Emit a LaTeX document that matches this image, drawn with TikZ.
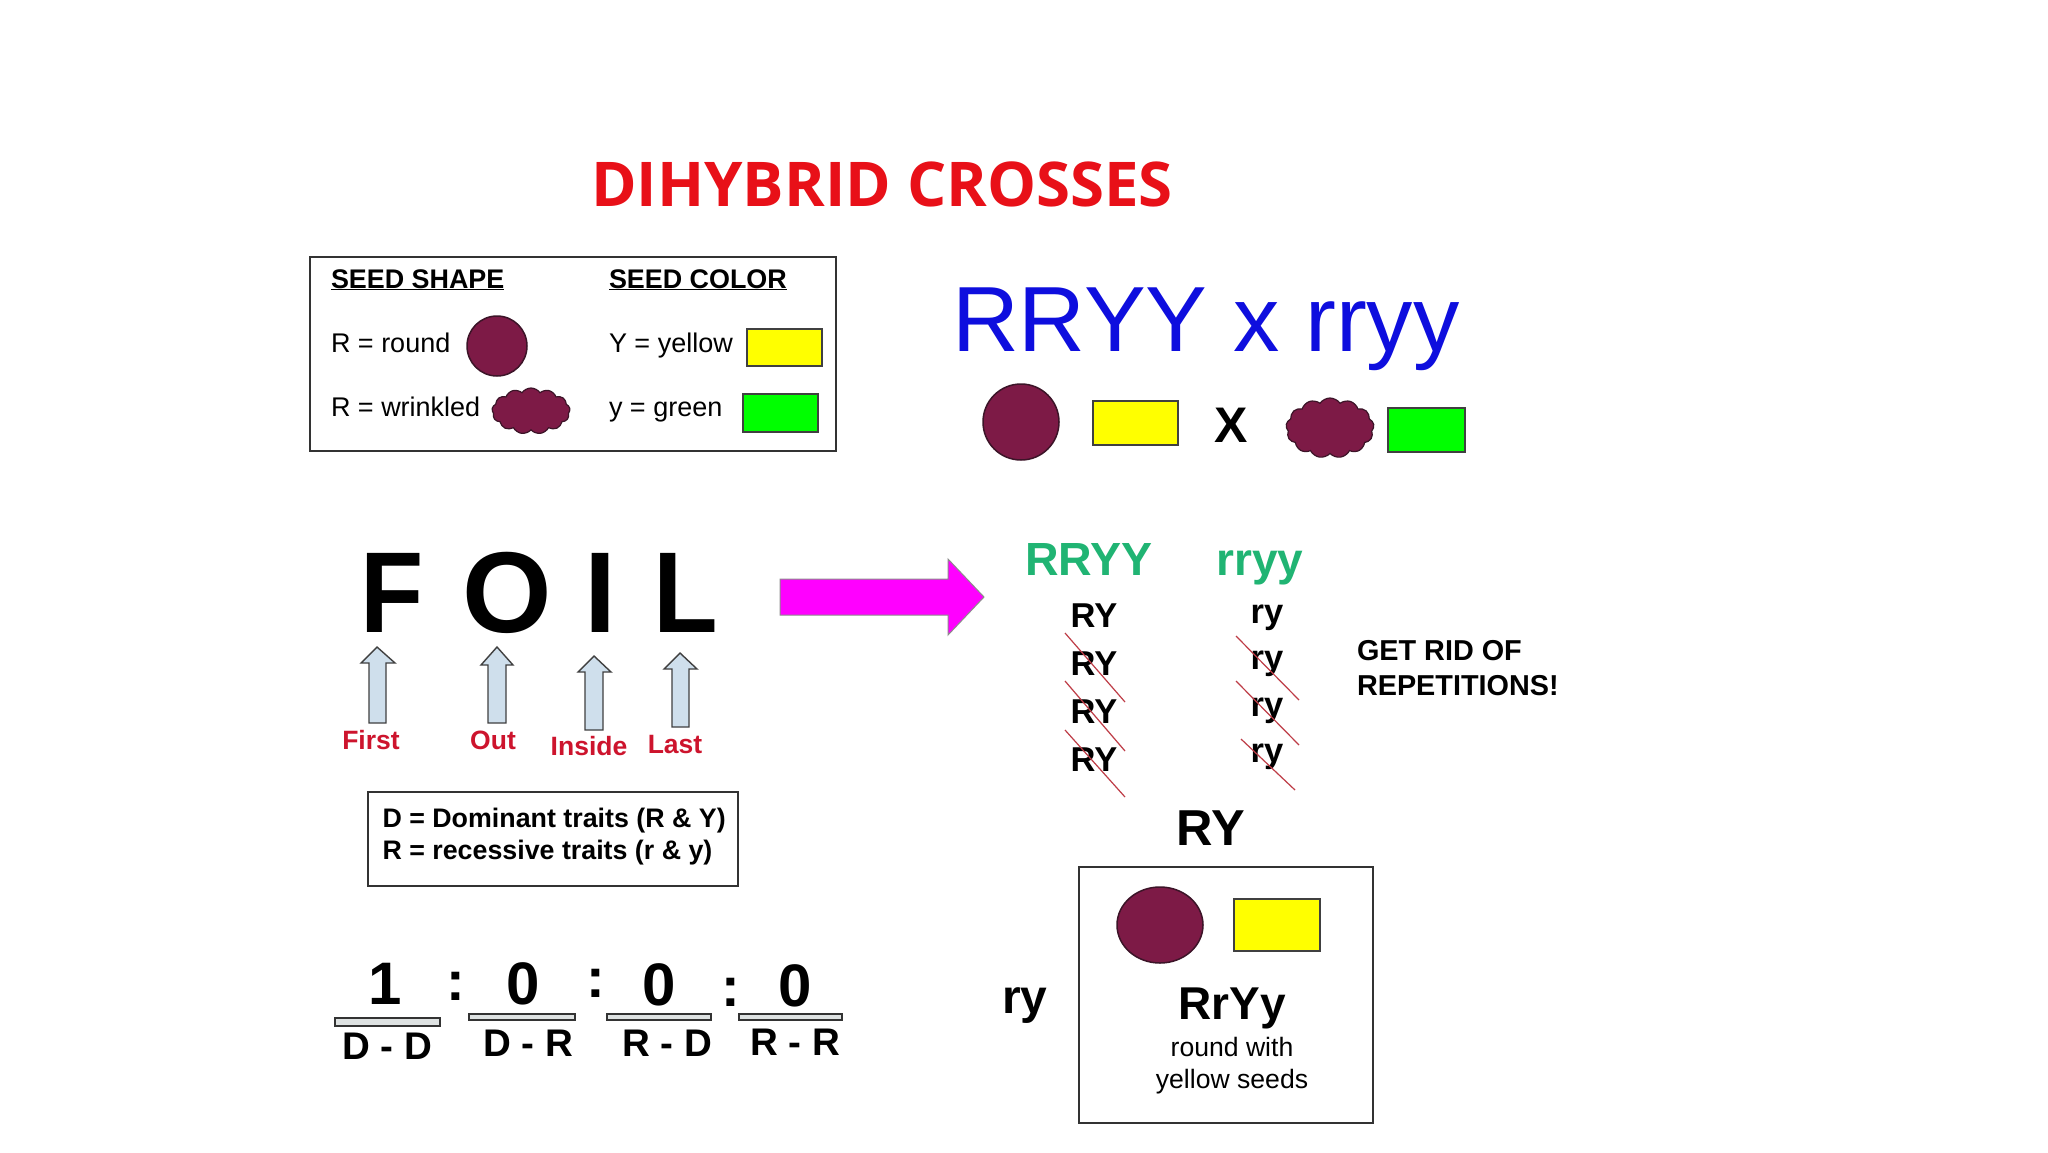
\documentclass[tikz,border=0pt]{standalone}
\usepackage{fontspec}
\setmainfont{Liberation Sans}
\newfontfamily\titlefont{Open Sans}
\usetikzlibrary{shapes.symbols,shapes.geometric}
\definecolor{seed}{RGB}{125,26,70}
\definecolor{seededge}{RGB}{60,20,40}
\definecolor{seedyellow}{RGB}{255,255,0}
\definecolor{seedgreen}{RGB}{0,255,0}
\definecolor{headgreen}{RGB}{32,180,115}
\definecolor{crossblue}{RGB}{14,14,222}
\definecolor{titlered}{RGB}{232,16,24}
\definecolor{arrowmagenta}{RGB}{255,0,255}
\definecolor{labelred}{RGB}{205,20,45}
\definecolor{strike}{RGB}{190,60,70}
\definecolor{blockfill}{RGB}{207,223,236}
\definecolor{barfill}{RGB}{222,226,226}
\tikzset{
  fs/.style={font=\fontsize{#1}{#1}\selectfont},
  fb/.style={font=\fontsize{#1}{#1}\selectfont\bfseries},
  txt/.style={inner sep=0pt,outer sep=0pt,anchor=base},
  txtw/.style={inner sep=0pt,outer sep=0pt,anchor=base west},
  framebox/.style={draw=black!80,line width=1.5pt,fill=none},
  swatch/.style={draw=black!75,line width=1.5pt,inner sep=0pt,anchor=north west},
  seedround/.style={ellipse,draw=seededge,line width=1.5pt,fill=seed,inner sep=0pt},
  seedwrinkled/.style={cloud,cloud puffs=13,cloud puff arc=110,draw=seededge,line width=1.2pt,fill=seed,inner sep=0pt,aspect=1.7},
  blockup/.style={draw=black!75,line width=1.4pt,fill=blockfill,line join=miter},
  bar/.style={draw=black!80,line width=1.4pt,fill=barfill},
  strikeout/.style={draw=strike,line width=1.2pt},
}
\begin{document}
\begin{tikzpicture}[x=1pt,y=-1pt]
\useasboundingbox[fill=white] (0,0) rectangle (2048,1152);

% title
\node[txt,text=titlered,font=\fontsize{61.7}{62}\selectfont\titlefont\bfseries] (title) at (882,206) {DIHYBRID CROSSES};

% legend
\draw[framebox] (310,257) rectangle (836,451);
\node[txtw,fb=26.9] (shapehead) at (331,288) {\underline{SEED SHAPE}};
\node[txtw,fb=26.9] (colorhead) at (609,288) {\underline{SEED COLOR}};
\node[txtw,fs=27] (roundlab) at (331,352) {R = round};
\node[txtw,fs=27] (wrinklab) at (331,416) {R = wrinkled};
\node[txtw,fs=27] (yellowlab) at (609,352) {Y = yellow};
\node[txtw,fs=27] (greenlab) at (609,416) {y = green};
\node[seedround,minimum width=60pt,minimum height=60pt] (legendround) at (497,346) {};
\node[seedwrinkled,minimum width=78pt,minimum height=46pt] (legendwrinkled) at (531,411) {};
\node[swatch,fill=seedyellow,minimum width=75pt,minimum height=37pt] (legendyellow) at (746,328) {};
\node[swatch,fill=seedgreen,minimum width=75pt,minimum height=38pt] (legendgreen) at (742,393) {};

% cross
\node[txtw,fs=92.6,text=crossblue] (cross) at (952,351) {RRYY x rryy};
\node[seedround,minimum width=76pt,minimum height=76pt] (crossround) at (1021,422) {};
\node[swatch,fill=seedyellow,minimum width=85pt,minimum height=44pt] (crossyellow) at (1092,400) {};
\node[txt,fb=50] (crossx) at (1231,442) {X};
\node[seedwrinkled,minimum width=88pt,minimum height=60pt] (crosswrinkled) at (1330,428) {};
\node[swatch,fill=seedgreen,minimum width=77pt,minimum height=44pt] (crossgreen) at (1387,407) {};

% FOIL
\node[txt,fb=115,xscale=0.9,transform shape] (foilF) at (392,632) {F};
\node[txt,fb=115] (foilO) at (507,632) {O};
\node[txt,fb=115] (foilI) at (600,632) {I};
\node[txt,fb=115,xscale=0.92,transform shape] (foilL) at (686,632) {L};

% magenta arrow
\draw[draw=black!45,line width=1pt,fill=arrowmagenta] (780,579) -- (948,579) -- (948,559) -- (984,597) -- (948,635) -- (948,615) -- (780,615) -- cycle;

% block arrows
\draw[blockup] (377,647) -- (395,663) -- (386,663) -- (386,723) -- (369,723) -- (369,663) -- (361,663) -- cycle;
\draw[blockup] (497,647) -- (513,665) -- (506,665) -- (506,723) -- (488,723) -- (488,665) -- (481,665) -- cycle;
\draw[blockup] (594,656) -- (611,672) -- (603,672) -- (603,730) -- (585,730) -- (585,672) -- (578,672) -- cycle;
\draw[blockup] (680,653) -- (697,669) -- (689,669) -- (689,727) -- (672,727) -- (672,669) -- (664,669) -- cycle;

\node[txt,fb=26.5,text=labelred] (lfirst) at (371,749) {First};
\node[txt,fb=26.5,text=labelred] (lout) at (493,749) {Out};
\node[txt,fb=26.5,text=labelred] (linside) at (589,755) {Inside};
\node[txt,fb=26.5,text=labelred] (llast) at (675,753) {Last};

% D/R box
\draw[framebox] (368,792) rectangle (738,886);
\node[txtw,fb=26.8] (dline) at (382.5,827) {D = Dominant traits (R \& Y)};
\node[txtw,fb=26.8] (rline) at (382.5,859) {R = recessive traits (r \& y)};

% ratio
\node[txt,fb=60] (r1) at (385,1004) {1};
\node[txt,fb=60] (r2) at (523,1004) {0};
\node[txt,fb=60] (r3) at (659,1005) {0};
\node[txt,fb=60] (r4) at (795,1006) {0};
\node[txt,fb=56] (c1) at (456,1000) {:};
\node[txt,fb=56] (c2) at (596,997) {:};
\node[txt,fb=56] (c3) at (731,1006) {:};
\draw[bar] (335,1018) rectangle (440,1026);
\draw[bar] (469,1014) rectangle (575,1020);
\draw[bar] (607,1014) rectangle (711,1020);
\draw[bar] (739,1014) rectangle (842,1020);
\node[txt,fb=38.5] (l1) at (387,1059) {D - D};
\node[txt,fb=38.5] (l2) at (528,1056) {D - R};
\node[txt,fb=38.5] (l3) at (667,1056) {R - D};
\node[txt,fb=38.5] (l4) at (795,1055) {R - R};

% gametes
\node[txt,fb=46.5,text=headgreen] (hR) at (1089,575) {RRYY};
\node[txt,fb=46,text=headgreen] (hr) at (1260,575) {rryy};
\node[txt,fb=34.5] (a1) at (1094,627) {RY};
\node[txt,fb=34.5] (a2) at (1094,675) {RY};
\node[txt,fb=34.5] (a3) at (1094,723) {RY};
\node[txt,fb=34.5] (a4) at (1094,771) {RY};
\node[txt,fb=34.5] (b1) at (1267,623) {ry};
\node[txt,fb=34.5] (b2) at (1267,669) {ry};
\node[txt,fb=34.5] (b3) at (1267,716) {ry};
\node[txt,fb=34.5] (b4) at (1267,762) {ry};
\draw[strikeout] (1065,633) -- (1125,702);
\draw[strikeout] (1065,681) -- (1125,751);
\draw[strikeout] (1065,730) -- (1125,797);
\draw[strikeout] (1236,636) -- (1299,700);
\draw[strikeout] (1236,681) -- (1299,745);
\draw[strikeout] (1241,739) -- (1295,790);
\node[txtw,fb=28.8] (get1) at (1357,660) {GET RID OF};
\node[txtw,fb=28.8] (get2) at (1357,695) {REPETITIONS!};

% punnett
\node[txt,fb=50.5] (bigRY) at (1211,845) {RY};
\node[txt,fb=48] (bigry) at (1025,1013) {ry};
\draw[framebox] (1079,867) rectangle (1373,1123);
\node[seedround,minimum width=86pt,minimum height=76pt] (pround) at (1160,925) {};
\node[swatch,fill=seedyellow,minimum width=86pt,minimum height=52pt] (pyellow) at (1233,898) {};
\node[txt,fb=46] (geno) at (1232,1019) {RrYy};
\node[txt,fs=26.6] (ph1) at (1232,1056) {round with};
\node[txt,fs=26.6] (ph2) at (1232,1088) {yellow seeds};
\end{tikzpicture}
\end{document}
